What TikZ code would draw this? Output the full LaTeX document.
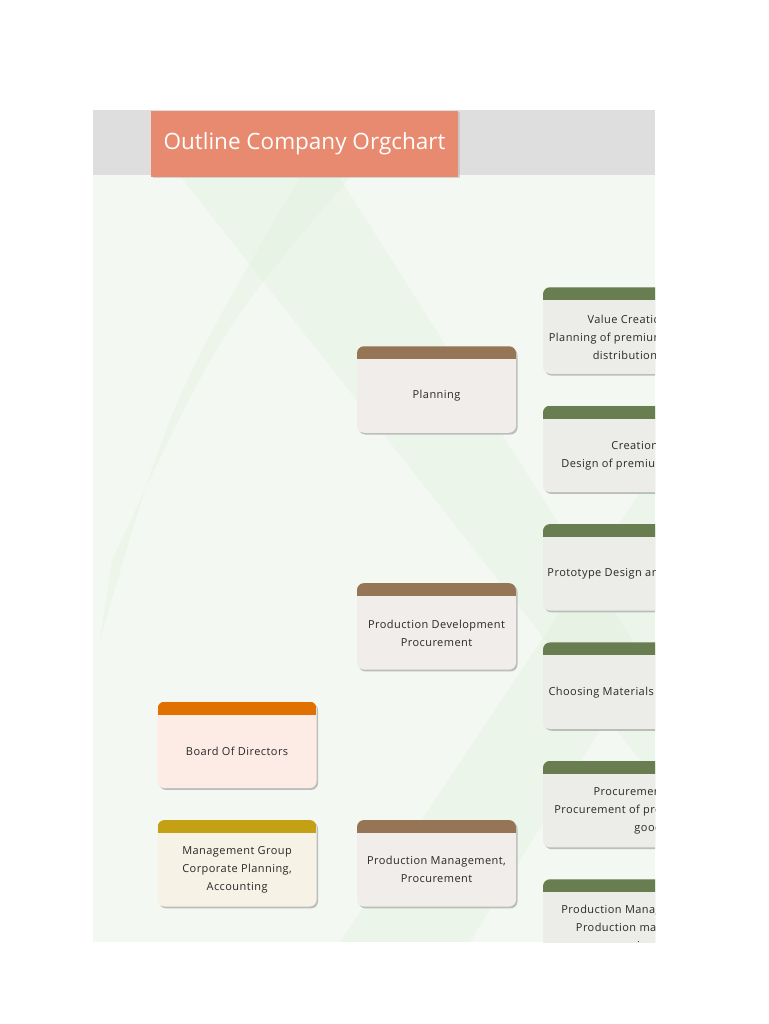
\documentclass[tikz,border=0pt]{standalone}
\usepackage{fontspec}
\setmainfont{Open Sans}
\newfontfamily\chartfont[LetterSpace=4]{Open Sans}
\usetikzlibrary{positioning,shadows}
\definecolor{titlesalmon}{RGB}{232,138,112}
\definecolor{bandgray}{RGB}{222,222,222}
\definecolor{paperbg}{RGB}{243,248,242}
\definecolor{leafband}{RGB}{205,232,198}
\definecolor{plainbrown}{RGB}{149,117,85}
\definecolor{plainbody}{RGB}{240,237,234}
\definecolor{boardorange}{RGB}{224,112,0}
\definecolor{boardbody}{RGB}{253,236,230}
\definecolor{groupolive}{RGB}{196,160,21}
\definecolor{groupbody}{RGB}{247,242,230}
\definecolor{teamgreen}{RGB}{104,125,80}
\definecolor{teambody}{RGB}{236,237,232}
\definecolor{inkgray}{RGB}{40,40,40}

\begin{document}
\begin{tikzpicture}[
        x=1pt, y=-1pt,
        node distance=31.5pt,
        box/.style={rectangle, rounded corners=7pt, minimum width=159pt, minimum height=86.5pt, inner sep=0pt,
            drop shadow={shadow xshift=1.5pt, shadow yshift=-1.8pt, fill=black!35, opacity=0.7},
            path picture={\fill[#1, sharp corners] (path picture bounding box.north west) rectangle ([yshift=-13pt]path picture bounding box.north east);}},
        wide/.style={minimum width=216pt},
        lbl/.style={font=\chartfont\fontsize{11}{18}\selectfont, text=inkgray, align=center, yshift=-6.5pt}
    ]
    \useasboundingbox (0,0) rectangle (768,1024);
    \begin{scope}
        \clip (93,110) rectangle (655,942);
        % page and faint leaf bands
        \fill[paperbg] (93,110) rectangle (655,942);
        \fill[leafband, opacity=0.18] (181,177) -- (339,177) -- (655,676) -- (655,779) -- cycle;
        \fill[leafband, opacity=0.14] (300,177) -- (350,177) .. controls (220,330) .. (112,560) -- (100,640) .. controls (170,400) .. cycle;
        \fill[leafband, opacity=0.16] (340,942) -- (470,942) -- (655,640) -- (655,470) -- cycle;
        \fill[bandgray] (93,110) rectangle (655,175);

        \node[fill=titlesalmon, minimum width=307pt, minimum height=66pt, inner sep=0pt, text=white,
            font=\fontsize{22.5}{26}\selectfont, drop shadow={shadow xshift=1.5pt, shadow yshift=-1.5pt, fill=black!30}]
            (title) at (304.5,144) {Outline Company Orgchart};

        % middle column
        \node[box=plainbrown, fill=plainbody, label={[lbl]center:Planning}] (plan) at (436.5,389.5) {};
        \node[box=plainbrown, fill=plainbody, below=150pt of plan,
            label={[lbl]center:{Production Development\\Procurement}}] (pdev) {};
        \node[box=plainbrown, fill=plainbody, below=150pt of pdev,
            label={[lbl]center:{Production Management,\\Procurement}}] (pmgt) {};

        % left column
        \node[box=groupolive, fill=groupbody, left=40pt of pmgt,
            label={[lbl]center:{Management Group\\Corporate Planning,\\Accounting}}] (mgmt) {};
        \node[box=boardorange, fill=boardbody, above=of mgmt,
            label={[lbl]center:Board Of Directors}] (board) {};

        % right column
        \node[box=teamgreen, fill=teambody, wide,
            label={[lbl]center:{Value Creation Division\\Planning of premium goods and their\\distribution channels}}] (valcr) at (651,330.5) {};
        \node[box=teamgreen, fill=teambody, wide, below=of valcr,
            label={[lbl]center:{Creation Team\\Design of premium goods, labels}}] (creat) {};
        \node[box=teamgreen, fill=teambody, wide, below=of creat,
            label={[lbl]center:Prototype Design and Production Test}] (proto) {};
        \node[box=teamgreen, fill=teambody, wide, below=of proto,
            label={[lbl]center:Choosing Materials and Suppliers too}] (mater) {};
        \node[box=teamgreen, fill=teambody, wide, below=of mater,
            label={[lbl]center:{Procurement Section\\Procurement of premium materials\\goods}}] (procu) {};
        \node[box=teamgreen, fill=teambody, wide, below=of procu,
            label={[lbl]center:{Production Management Section\\Production management of\\premium goods}}] (prodm) {};
    \end{scope}
\end{tikzpicture}
\end{document}
